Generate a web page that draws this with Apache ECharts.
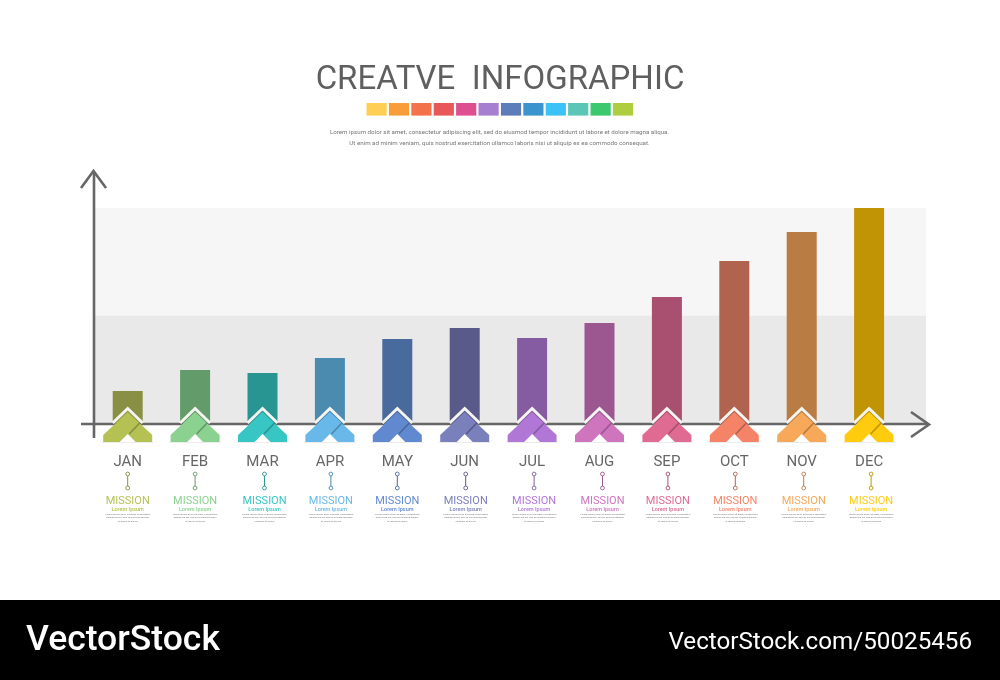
<!DOCTYPE html>
<html>
<head>
<meta charset="utf-8">
<style>html,body{margin:0;padding:0;background:#fff}#c{width:1000px;height:680px}</style>
<script src="https://cdn.jsdelivr.net/npm/echarts@6/dist/echarts.min.js"></script>
</head>
<body>
<div id="c"></div>
<script>
const months = ['JAN','FEB','MAR','APR','MAY','JUN','JUL','AUG','SEP','OCT','NOV','DEC'];
const values = [15.3,25,23.6,30.6,39.4,44.4,39.8,46.8,58.8,75.5,88.9,100];
const barColors = ['#8A9043','#639C6A','#289592','#4B8BAF','#496A9C','#5A5A8A','#855BA2','#9C5690','#A94F70','#B06450','#B97C42','#C19405'];
const markerColors = ['#B5C253','#8BD18F','#38C6C4','#69B8EA','#6089CF','#7A80BC','#B177D6','#CE75BE','#DF6A92','#F58368','#F7A859','#FFCB0E'];
const swatches = ['#FFCE54','#F99D3A','#F4724A','#E8585A','#DE4F8F','#A67FD0','#5C7CBA','#3C94CF','#3BC3F9','#5BC6B6','#3CC86E','#AECD3F'];
const titleText = 'CREATVE  INFOGRAPHIC';
const introLines = ['Lorem ipsum dolor sit amet, consectetur adipiscing elit, sed do eiusmod tempor incididunt ut labore et dolore magna aliqua.',
  'Ut enim ad minim veniam, quis nostrud exercitation ullamco laboris nisi ut aliquip ex ea commodo consequat.'];
const tinyLines = ['Lorem ipsum dolor sit amet, consectetur','adipiscing elit, sed do eiusmod tempor','ut labore et dolore'];
const FONT = 'Roboto, sans-serif';
const GREY = '#666666';
const detailShift = [0,0,2,1,0,1,2,3,1,1,2,2];

function marker(params, api) {
  const i = params.dataIndex;
  const p = api.coord([api.value(0), 0]);
  const cx = p[0], y0 = p[1], dx = cx + detailShift[i];
  const c = markerColors[i], d = barColors[i];
  const txt = (text, y, size, fill, weight) => ({
    type: 'text', style: {text, x: dx, y: y0 + y, fill, align: 'center', verticalAlign: 'middle',
      font: (weight || 400) + ' ' + size + 'px ' + FONT}
  });
  const kids = [
    {type:'rect', shape:{x:cx-26,y:y0+18,width:52,height:1}, style:{fill:'#ececec'}},
    {type:'polyline', shape:{points:[[cx-15,y0-1],[cx,y0-15.5],[cx+15,y0-1]]}, style:{stroke:'#f4f4f0',lineWidth:3,fill:null}},
    {type:'polygon', shape:{points:[[cx,y0-12],[cx+24.5,y0+11],[cx+24.5,y0+18],[cx+8,y0+18],[cx,y0+10],[cx-8,y0+18],[cx-24.5,y0+18],[cx-24.5,y0+11]]}, style:{fill:c}},
    {type:'line', shape:{x1:cx+12,y1:y0-1,x2:cx+1.5,y2:y0+10}, style:{stroke:d,lineWidth:1.8}},
    {type:'line', shape:{x1:dx,y1:y0+50,x2:dx,y2:y0+64}, style:{stroke:d,lineWidth:1}},
    {type:'circle', shape:{cx:dx,cy:y0+50,r:1.9}, style:{stroke:d,lineWidth:0.9,fill:'#fff'}},
    {type:'circle', shape:{cx:dx,cy:y0+64,r:1.9}, style:{stroke:d,lineWidth:0.9,fill:'#fff'}},
    txt('MISSION', 77.5, 11, c),
    txt('Lorem Ipsum', 85.5, 5.5, c, 500),
    txt(tinyLines[0], 90.5, 2.5, '#777'),
    txt(tinyLines[1], 93.5, 2.5, '#777'),
    txt(tinyLines[2], 97, 2.5, '#777')
  ];
  return {type:'group', children:kids};
}

const graphic = [
  {type:'rect', z:-2, shape:{x:94,y:208,width:832,height:107.5}, style:{fill:'#F6F6F6'}},
  {type:'rect', z:-2, shape:{x:94,y:315.5,width:832,height:108.5}, style:{fill:'#E9E9E9'}},
  {type:'line', z:3, shape:{x1:81,y1:424,x2:928,y2:424}, style:{stroke:GREY,lineWidth:2.6}},
  {type:'line', z:3, shape:{x1:94,y1:172,x2:94,y2:438}, style:{stroke:GREY,lineWidth:2.6}},
  {type:'polyline', z:3, shape:{points:[[911,412],[929,424.5],[911,437]]}, style:{stroke:GREY,lineWidth:2.6,fill:null}},
  {type:'polyline', z:3, shape:{points:[[81,188],[93.5,171],[106,188]]}, style:{stroke:GREY,lineWidth:2.6,fill:null}},
  {type:'text', style:{text:titleText,x:500,y:80.5,fill:'#5F5F5F',align:'center',verticalAlign:'middle',font:'400 33px '+FONT}},
  {type:'text', style:{text:introLines[0],x:499.5,y:132,fill:'#777',align:'center',verticalAlign:'middle',font:'400 6.2px '+FONT}},
  {type:'text', style:{text:introLines[1],x:499.5,y:143,fill:'#777',align:'center',verticalAlign:'middle',font:'400 6.2px '+FONT}},
  {type:'rect', shape:{x:0,y:600,width:1000,height:80}, style:{fill:'#000'}},
  {type:'text', style:{text:'VectorStock',x:26,y:641,fill:'#fff',align:'left',verticalAlign:'middle',font:'500 35.5px '+FONT}},
  {type:'text', style:{text:'VectorStock.com/50025456',x:972,y:643,fill:'#fff',align:'right',verticalAlign:'middle',font:'400 24.2px '+FONT}}
];
swatches.forEach((c,i)=>graphic.push({type:'rect',shape:{x:366.5+i*22.4,y:103,width:20.2,height:12.6},style:{fill:c}}));

const chart = echarts.init(document.getElementById('c'));
chart.setOption({
  animation:false,
  backgroundColor:'#fff',
  graphic,
  grid:{left:94,top:208,width:808.8,height:216},
  xAxis:{type:'category',data:months,axisLine:{show:false},axisTick:{show:false},
    axisLabel:{margin:31,fontFamily:'Roboto',fontSize:15,color:GREY}},
  yAxis:{type:'value',min:0,max:100,show:false,splitLine:{show:false}},
  series:[
    {type:'bar',barWidth:30,z:2,data:values.map((v,i)=>({value:v,itemStyle:{color:barColors[i]}}))},
    {type:'custom',z:5,clip:false,silent:true,renderItem:marker,encode:{x:0,y:1},
      data:months.map((m,i)=>[i,values[i]])}
  ]
});
</script>
</body>
</html>
